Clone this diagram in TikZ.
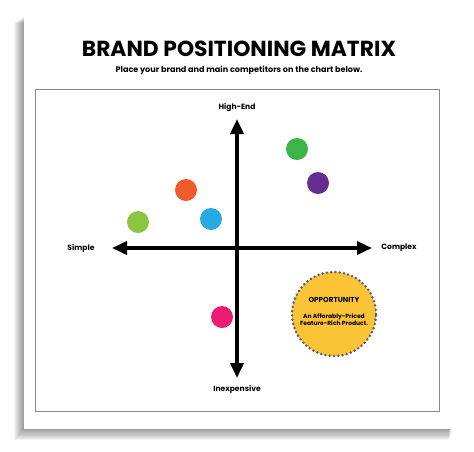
\documentclass[tikz,border=0pt]{standalone}
\usepackage{fontspec}
\setmainfont{Poppins}
\usetikzlibrary{arrows.meta}
\definecolor{cgreen}{HTML}{3BB54A}
\definecolor{cpurple}{HTML}{662D91}
\definecolor{corange}{HTML}{F15A29}
\definecolor{cblue}{HTML}{27AAE1}
\definecolor{clime}{HTML}{8CC63F}
\definecolor{cpink}{HTML}{EC1C74}
\definecolor{cyellow}{HTML}{FBC336}
\definecolor{cdot}{HTML}{5B5E72}
\definecolor{cframe}{HTML}{8A8A8A}
\begin{document}
\begin{tikzpicture}[x=1pt,y=-1pt,
  dot/.style={circle,minimum size=22pt,inner sep=0pt},
  axis/.style={line width=3.6pt,-{Triangle[length=15pt,width=13pt]}},
  axlabel/.style={font=\bfseries\fontsize{7.6}{8}\selectfont},
  oppt/.style={font=\bfseries\fontsize{6}{7}\selectfont,align=center}]
\useasboundingbox (0,0) rectangle (474,451);
\fill[white] (0,0) rectangle (474,451);
% shadow
\foreach \i in {1,...,10}{
  \fill[black,opacity=0.045] (24-\i*1.0,16+\i*0.7) rectangle (452-\i*0.3,429+\i*1.1);
}
\fill[white] (24,16) rectangle (452,429);
\draw[cframe,line width=1pt] (35,89) rectangle (439,411);
% title
\node (title) at (239,49) {\bfseries\fontsize{21.8}{23}\selectfont BRAND POSITIONING MATRIX};
\node (sub) at (239,70) {\bfseries\fontsize{8.1}{9}\selectfont Place your brand and main competitors on the chart below.};
% axes
\coordinate (c) at (237,248);
\coordinate (top) at (237,119);
\coordinate (bot) at (237,378);
\coordinate (lft) at (112,248);
\coordinate (rgt) at (372,248);
\draw[axis] (c) -- (top);
\draw[axis] (c) -- (bot);
\draw[axis] (c) -- (lft);
\draw[axis] (c) -- (rgt);
\node[axlabel] (hi) at (237,107) {High-End};
\node[axlabel] (lo) at (237,389) {Inexpensive};
\node[axlabel] (simple) at (81,248) {Simple};
\node[axlabel] (complex) at (399,248) {Complex};
% dots
\node[dot,fill=cgreen] (d1) at (297,149) {};
\node[dot,fill=cpurple] (d2) at (318,183) {};
\node[dot,fill=corange] (d3) at (186,190) {};
\node[dot,fill=cblue] (d4) at (211,219) {};
\node[dot,fill=clime] (d5) at (138,222) {};
\node[dot,fill=cpink] (d6) at (222,317) {};
% opportunity
\node[circle,fill=cyellow,draw=cdot,line width=2.8pt,dash pattern=on 0pt off 4.3pt,line cap=round,minimum size=84pt,inner sep=0pt] (opp) at (334,314) {};
\node[font=\bfseries\fontsize{7.2}{8}\selectfont] (o1) at (334,300) {OPPORTUNITY};
\node[oppt] (o2) at (334,320) {An Afforably-Priced\\Feature-Rich Product.};
\end{tikzpicture}
\end{document}
